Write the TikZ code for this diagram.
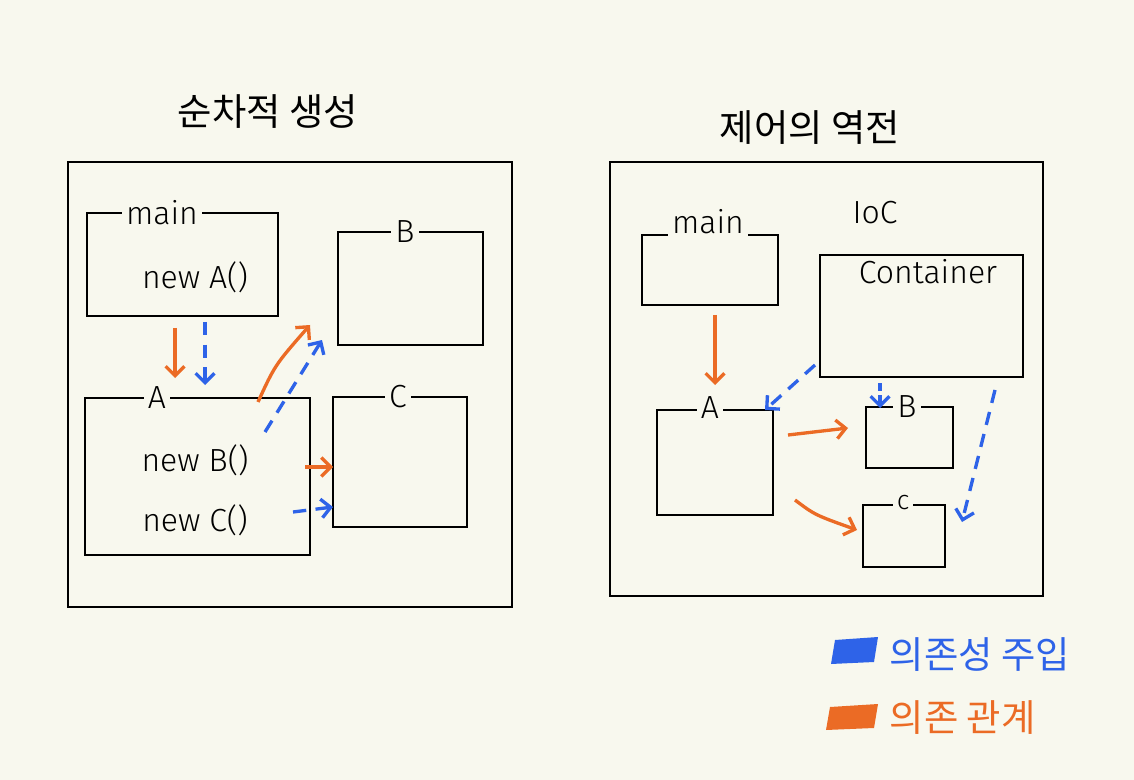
\documentclass[tikz,border=0pt]{standalone}
\usepackage{fontspec}
\setmainfont{Fira Sans Light}
\newfontfamily\kr{Noto Sans CJK KR}
\usetikzlibrary{arrows.meta}
\definecolor{bg}{HTML}{F8F8EE}
\definecolor{bl}{HTML}{2E63E8}
\definecolor{og}{HTML}{EB6B25}
\tikzset{
 x=0.75pt,y=-0.75pt,
 frame/.style={draw=black,line width=1.8pt},
 box/.style={draw=black,line width=2.1pt},
 lab/.style={fill=bg,inner sep=3pt,font=\fontsize{24}{26}\selectfont},
 txt/.style={font=\fontsize{24}{26}\selectfont},
 dep/.style={draw=og,line width=2.5pt,-{Straight Barb[length=7pt]}},
 inj/.style={draw=bl,line width=2.5pt,dash pattern=on 10pt off 7pt,-{Straight Barb[length=7pt]}},
 ttl/.style={font=\kr\fontsize{28}{30}\selectfont},
}
\begin{document}
\begin{tikzpicture}
\fill[bg] (0,0) rectangle (1134,780);
\useasboundingbox (0,0) rectangle (1134,780);
% titles
\node[ttl] (t1) at (268,112) {순차적 생성};
\node[ttl] (t2) at (810,128) {제어의 역전};
% frames
\draw[frame] (68,162) rectangle (512,607);
\draw[frame] (610,162) rectangle (1043,596);
% left
\draw[box] (87,213) rectangle (278,316);
\node[lab] (lmain) at (162,213) {main};
\node[txt] (newA) at (195,277) {new A()};
\draw[box] (338,232) rectangle (483,345);
\node[lab] (lB) at (405,232) {B};
\draw[box] (85,398) rectangle (310,555);
\node[lab] (lA) at (157,398) {A};
\node[txt] (newB) at (195,460) {new B()};
\node[txt] (newC) at (195,520) {new C()};
\draw[box] (333,397) rectangle (467,527);
\node[lab] (lC) at (398,397) {C};
\coordinate (a1) at (175,328); \coordinate (a2) at (175,378);
\coordinate (b1) at (205,322); \coordinate (b2) at (205,385);
\coordinate (a3) at (258,402); \coordinate (a4) at (310,325);
\coordinate (b3) at (265,432); \coordinate (b4) at (322,340);
\coordinate (a5) at (305,467); \coordinate (a6) at (333,467);
\coordinate (b5) at (293,512); \coordinate (b6) at (333,507);
\draw[dep] (a1) -- (a2);
\draw[inj] (b1) -- (b2);
\draw[dep] (a3) .. controls (275,365) .. (a4);
\draw[inj] (b3) -- (b4);
\draw[dep] (a5) -- (a6);
\draw[inj] (b5) -- (b6);
% right
\draw[box] (642,235) rectangle (778,305);
\node[lab] (rmain) at (708,222) {main};
\node[txt] (ioc) at (875,213) {IoC};
\draw[box] (820,255) rectangle (1023,377);
\node[lab] (cont) at (928,272) {Container};
\draw[box] (657,410) rectangle (773,515);
\node[lab] (rA) at (710,408) {A};
\draw[box] (866,407) rectangle (953,468);
\node[lab] (rB) at (907,407) {B};
\draw[box] (863,505) rectangle (945,567);
\node[lab,font=\fontsize{20}{22}\selectfont] (rC) at (903,503) {c};
\coordinate (c1) at (715,315); \coordinate (c2) at (715,385);
\coordinate (d1) at (815,365); \coordinate (d2) at (765,410);
\coordinate (d3) at (880,383); \coordinate (d4) at (880,408);
\coordinate (d5) at (995,390); \coordinate (d6) at (962,522);
\coordinate (c3) at (788,435); \coordinate (c4) at (848,428);
\coordinate (c5) at (795,500); \coordinate (c6) at (857,530);
\draw[dep] (c1) -- (c2);
\draw[inj] (d1) -- (d2);
\draw[inj,dash pattern=on 6pt off 3pt] (d3) -- (d4);
\draw[inj] (d5) -- (d6);
\draw[dep] (c3) -- (c4);
\draw[dep] (c5) .. controls (815,515) .. (c6);
% legend
\fill[bl] (835,640) -- (878,637) -- (874,662) -- (831,664) -- cycle;
\node[ttl,text=bl,anchor=west] (l1) at (885,655) {의존성 주입};
\fill[og] (830,707) -- (878,704) -- (874,728) -- (826,730) -- cycle;
\node[ttl,text=og,anchor=west] (l2) at (885,718) {의존 관계};
\end{tikzpicture}
\end{document}
